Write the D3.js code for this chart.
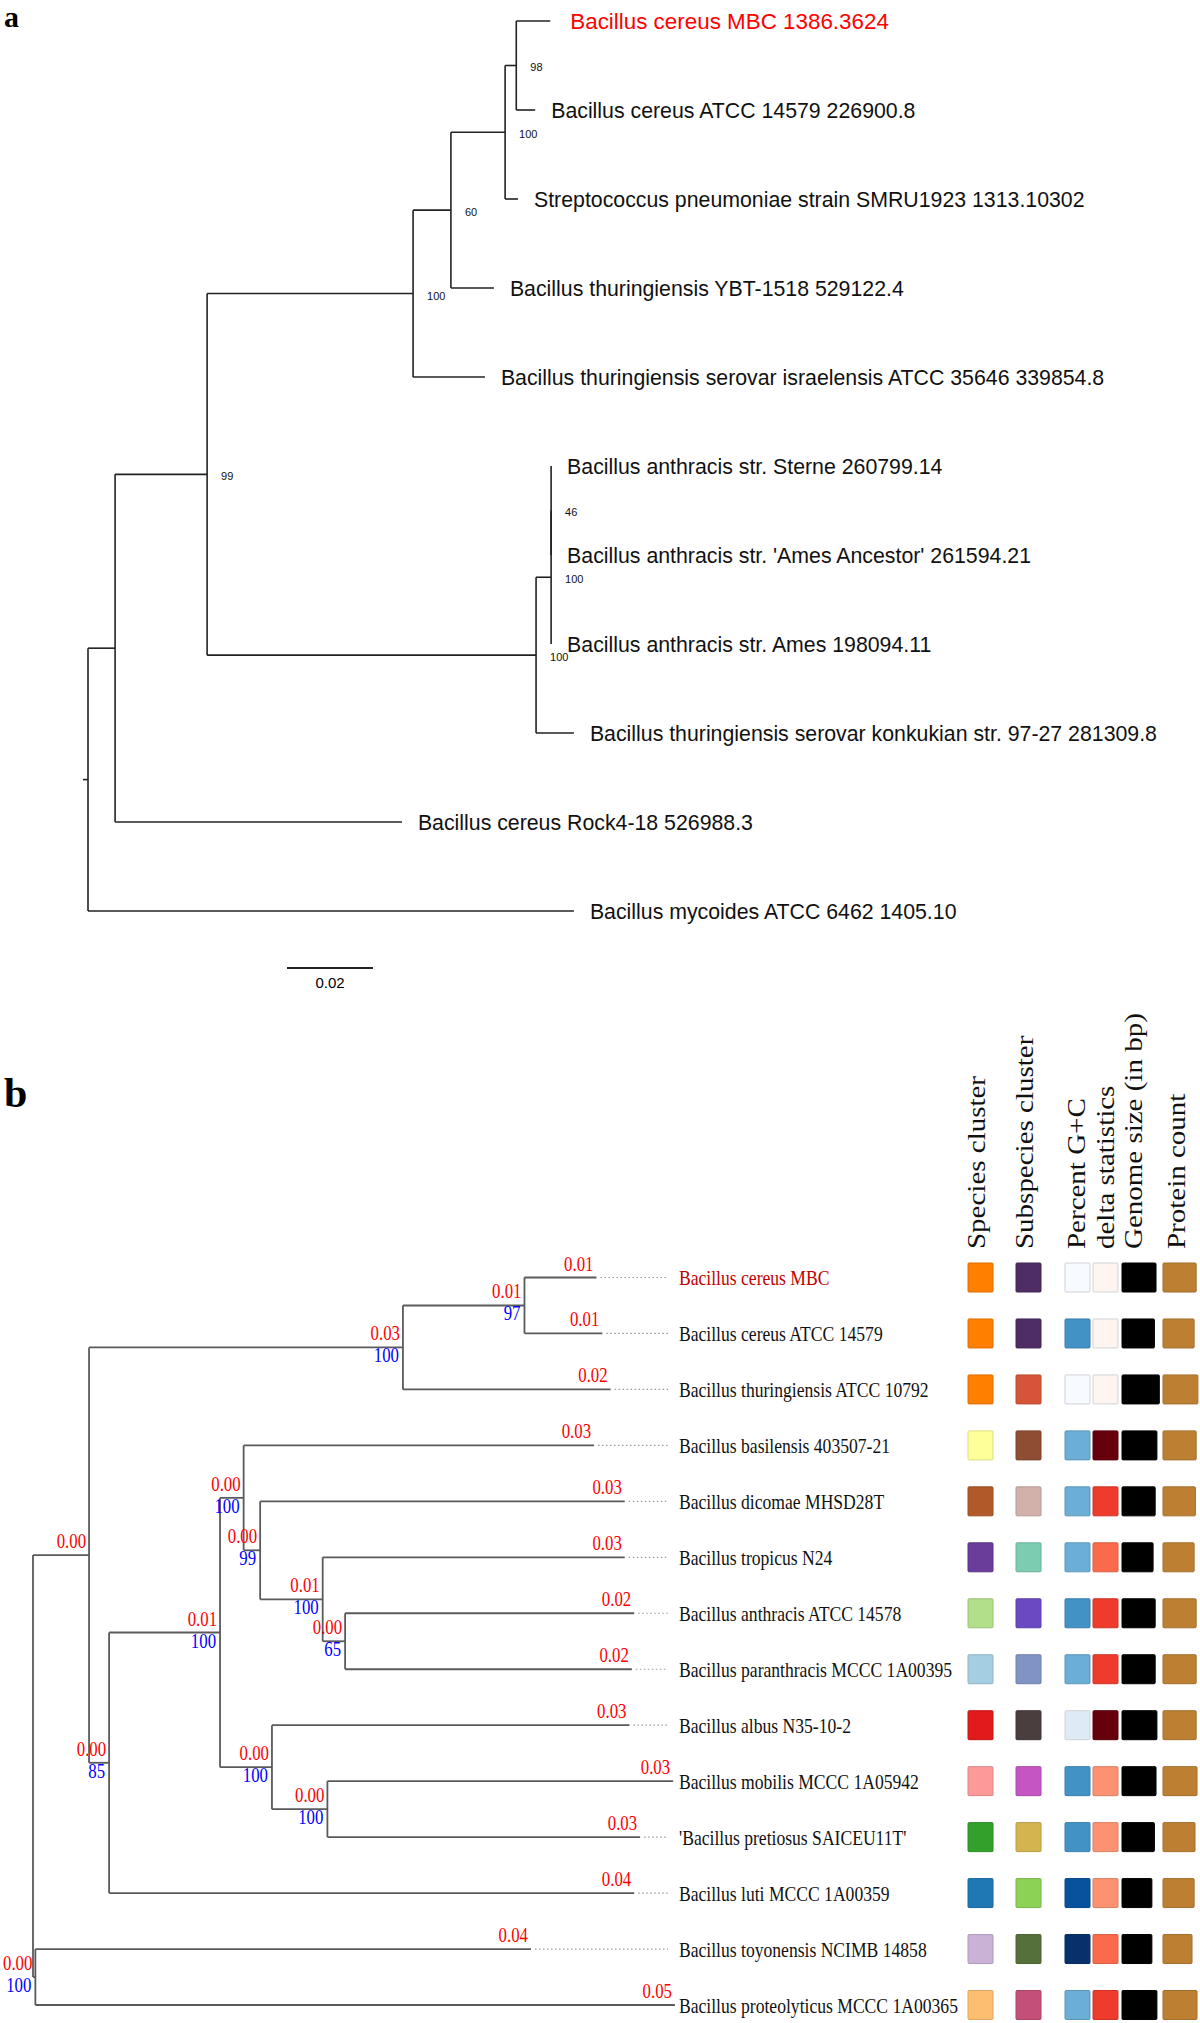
<!DOCTYPE html>
<html>
<head>
<meta charset="utf-8">
<script src="https://cdn.jsdelivr.net/npm/d3@7"></script>
<style>
  body { margin: 0; background: #fff; }
  svg { display: block; }
</style>
</head>
<body>
<div class="tree-chart"></div>
<script>
// ---------- panel a : whole genome tree ----------
const aLeaves = [
    "Bacillus cereus MBC 1386.3624",
    "Bacillus cereus ATCC 14579 226900.8",
    "Streptococcus pneumoniae strain SMRU1923 1313.10302",
    "Bacillus thuringiensis YBT-1518 529122.4",
    "Bacillus thuringiensis serovar israelensis ATCC 35646 339854.8",
    "Bacillus anthracis str. Sterne 260799.14",
    "Bacillus anthracis str. 'Ames Ancestor' 261594.21",
    "Bacillus anthracis str. Ames 198094.11",
    "Bacillus thuringiensis serovar konkukian str. 97-27 281309.8",
    "Bacillus cereus Rock4-18 526988.3",
    "Bacillus mycoides ATCC 6462 1405.10"
];
const aLeafParent = ["G", "G", "F", "E", "C", "H2", "H2", "H", "D", "A", "root"];
const aLeafLen = [0.0079, 0.0044, 0.0030, 0.0100, 0.0167, 0, 0, 0, 0.0088, 0.0667, 0.1130];
const aNodes = ["root", "A", "B", "C", "E", "F", "G", "D", "H", "H2"];
const aNodeParent = ["", "root", "A", "B", "C", "E", "F", "B", "D", "H"];
const aNodeLen = [0, 0.0063, 0.0214, 0.0479, 0.0088, 0.0126, 0.0026, 0.0765, 0.0035, 0];
const aBoot = [null, null, 99, 100, 60, 100, 98, 100, 100, 46];

// ---------- panel b : TYGS tree + metadata ----------
const bLeaves = [
    "Bacillus cereus MBC",
    "Bacillus cereus ATCC 14579",
    "Bacillus thuringiensis ATCC 10792",
    "Bacillus basilensis 403507-21",
    "Bacillus dicomae MHSD28T",
    "Bacillus tropicus N24",
    "Bacillus anthracis ATCC 14578",
    "Bacillus paranthracis MCCC 1A00395",
    "Bacillus albus N35-10-2",
    "Bacillus mobilis MCCC 1A05942",
    "'Bacillus pretiosus SAICEU11T'",
    "Bacillus luti MCCC 1A00359",
    "Bacillus toyonensis NCIMB 14858",
    "Bacillus proteolyticus MCCC 1A00365"
];
const bLeafParent = ["Nc", "Nc", "Nct", "N4", "N5", "N6", "N7", "N7", "N8", "N9", "N9", "N2", "Ntp", "Ntp"];
const bLeafLen = [0.0061, 0.0066, 0.0176, 0.0297, 0.0309, 0.0256, 0.0245, 0.0243, 0.0303, 0.0293, 0.0265, 0.0445, 0.0420, 0.0542];
const bNodes = ["root", "N1", "Nct", "Nc", "N2", "N3", "N4", "N5", "N6", "N7", "N8", "N9", "Ntp"];
const bNodeParent = ["", "root", "N1", "Nct", "N1", "N2", "N3", "N4", "N5", "N6", "N3", "N8", "root"];
const bNodeLen = [0, 0.00475, 0.0266, 0.0103, 0.0017, 0.0094, 0.0020, 0.0014, 0.0053, 0.0019, 0.0044, 0.0047, 0.0002];
const bBoot = [null, null, 100, 97, 85, 100, 100, 99, 100, 65, 100, 100, 100];

const headers = ["Species cluster", "Subspecies cluster", "Percent G+C", "delta statistics", "Genome size (in bp)", "Protein count"];
const speciesColor = ["#ff7f00", "#ff7f00", "#ff7f00", "#ffff99", "#b15928", "#6a3d9a", "#b2df8a", "#a6cee3", "#e31a1c", "#fb9a99", "#33a02c", "#1f78b4", "#cab2d6", "#fdbf6f"];
const subspeciesColor = ["#4d2d63", "#4d2d63", "#d6553a", "#8f4e34", "#d1b1a9", "#7bccb0", "#6a49c3", "#8192c4", "#4b3e3e", "#c655c4", "#d4b44f", "#8cd254", "#557139", "#c4507a"];
const gcColor = ["#f7fbff", "#4292c6", "#f7fbff", "#6baed6", "#6baed6", "#6baed6", "#4292c6", "#6baed6", "#deebf7", "#4292c6", "#4292c6", "#08519c", "#08306b", "#6baed6"];
const deltaColor = ["#fff5f0", "#fff5f0", "#fff5f0", "#67000d", "#ef3b2c", "#fb6a4a", "#ef3b2c", "#ef3b2c", "#67000d", "#fc9272", "#fc9272", "#fc9272", "#fb6a4a", "#ef3b2c"];
const genomeMb = [5.67, 5.40, 6.22, 5.82, 5.53, 5.18, 5.53, 5.53, 5.82, 5.67, 5.40, 4.98, 4.98, 5.82];
const proteinCount = [5640, 5290, 5930, 5640, 5510, 5290, 5640, 5640, 5640, 5780, 5440, 5290, 4930, 5780];

const width = 1200;
const height = 2023;

const svg = d3.select('.tree-chart').append('svg')
    .attr('width', width)
    .attr('height', height)
    .attr('viewBox', [0, 0, width, height]);

// build a hierarchy from the small arrays
function buildTree(nodes, nodeParent, nodeLen, boot, leaves, leafParent, leafLen) {
    const rows = nodes.map((id, i) => ({id: id, parent: nodeParent[i] || null, len: nodeLen[i], boot: boot[i], leaf: -1}));
    leaves.forEach((name, i) => rows.push({id: "leaf" + i, name: name, parent: leafParent[i], len: leafLen[i], boot: null, leaf: i}));
    const root = d3.stratify().id(d => d.id).parentId(d => d.parent)(rows);
    root.eachBefore(d => { d.dist = d.parent ? d.parent.dist + d.data.len : 0; });
    root.eachAfter(d => {
        if (d.children) {
            const ys = d.children.map(c => c.row);
            d.row = (d3.min(ys) + d3.max(ys)) / 2;
        } else {
            d.row = d.data.leaf;
        }
    });
    return root;
}

// ================= panel a =================
const aRoot = buildTree(aNodes, aNodeParent, aNodeLen, aBoot, aLeaves, aLeafParent, aLeafLen);
const aX = d3.scaleLinear().domain([0, 0.12]).range([88, 88 + 0.12 * 4300]);
const aY = d3.scaleLinear().domain([0, aLeaves.length - 1]).range([21, 911]);
const sans = '"Liberation Sans", Arial, sans-serif';

const ga = svg.append('g');
ga.append('text')
    .attr('x', 4).attr('y', 27)
    .style('font-family', '"Liberation Serif", "Times New Roman", serif')
    .style('font-weight', 'bold').style('font-size', '30px')
    .text('a');

ga.selectAll('line.h')
    .data(aRoot.descendants().filter(d => d.parent))
    .enter().append('line')
    .attr('x1', d => aX(d.parent.dist)).attr('x2', d => aX(d.dist))
    .attr('y1', d => aY(d.row)).attr('y2', d => aY(d.row))
    .style('stroke', '#222').style('stroke-width', 1.6);

ga.selectAll('line.v')
    .data(aRoot.descendants().filter(d => d.children))
    .enter().append('line')
    .attr('x1', d => aX(d.dist)).attr('x2', d => aX(d.dist))
    .attr('y1', d => aY(d3.min(d.children, c => c.row)))
    .attr('y2', d => aY(d3.max(d.children, c => c.row)))
    .style('stroke', '#222').style('stroke-width', 1.6);

// small root stub
ga.append('line')
    .attr('x1', aX(0) - 5).attr('x2', aX(0))
    .attr('y1', aY(aRoot.row)).attr('y2', aY(aRoot.row))
    .style('stroke', '#222').style('stroke-width', 1.6);

ga.selectAll('text.leaf')
    .data(aRoot.leaves())
    .enter().append('text')
    .attr('x', d => aX(d.dist) + (d.data.leaf === 0 ? 20 : 16))
    .attr('y', d => aY(d.row))
    .attr('dy', '0.36em')
    .style('font-family', sans)
    .style('font-size', d => d.data.leaf === 0 ? '22.4px' : '21.3px')
    .style('fill', d => d.data.leaf === 0 ? '#ff0000' : '#111')
    .text(d => d.data.name);

ga.selectAll('text.boot')
    .data(aRoot.descendants().filter(d => d.data.boot != null))
    .enter().append('text')
    .attr('x', d => aX(d.dist) + 14)
    .attr('y', d => aY(d.row) + 2)
    .attr('dy', '0.36em')
    .style('font-family', sans)
    .style('font-size', '11px')
    .style('fill', '#111')
    .text(d => d.data.boot);

// scale bar 0.02
const barLen = aX(0.02) - aX(0);
ga.append('line')
    .attr('x1', 287).attr('x2', 287 + barLen)
    .attr('y1', 968).attr('y2', 968)
    .style('stroke', '#222').style('stroke-width', 2);
ga.append('text')
    .attr('x', 287 + barLen / 2).attr('y', 988)
    .attr('text-anchor', 'middle')
    .style('font-family', sans)
    .style('font-size', '15px')
    .text('0.02');

// ================= panel b =================
const bRoot = buildTree(bNodes, bNodeParent, bNodeLen, bBoot, bLeaves, bLeafParent, bLeafLen);
const bX = d3.scaleLinear().domain([0, 0.055]).range([33, 33 + 0.055 * 11800]);
const bY = d3.scaleLinear().domain([0, bLeaves.length - 1]).range([1277.5, 2005]);
const serif = '"Liberation Serif", "Times New Roman", serif';
const squeeze = 0.8;   // labels in the figure are horizontally condensed
const dotEnd = 668;
const labelX = 679;

const gb = svg.append('g');
gb.append('text')
    .attr('x', 4).attr('y', 1107)
    .style('font-family', serif)
    .style('font-weight', 'bold').style('font-size', '42px')
    .text('b');

gb.selectAll('line.h')
    .data(bRoot.descendants().filter(d => d.parent))
    .enter().append('line')
    .attr('x1', d => bX(d.parent.dist)).attr('x2', d => bX(d.dist))
    .attr('y1', d => bY(d.row)).attr('y2', d => bY(d.row))
    .style('stroke', '#5a5a5a').style('stroke-width', 1.8);

gb.selectAll('line.v')
    .data(bRoot.descendants().filter(d => d.children))
    .enter().append('line')
    .attr('x1', d => bX(d.dist)).attr('x2', d => bX(d.dist))
    .attr('y1', d => bY(d3.min(d.children, c => c.row)))
    .attr('y2', d => bY(d3.max(d.children, c => c.row)))
    .style('stroke', '#5a5a5a').style('stroke-width', 1.8);

// dotted guides from tips to names
gb.selectAll('line.dot')
    .data(bRoot.leaves().filter(d => bX(d.dist) + 4 < dotEnd))
    .enter().append('line')
    .attr('x1', d => bX(d.dist) + 4).attr('x2', dotEnd)
    .attr('y1', d => bY(d.row)).attr('y2', d => bY(d.row))
    .style('stroke', '#9a9a9a').style('stroke-width', 1.2)
    .style('stroke-dasharray', '1.5,2.5');

// branch lengths (red) and bootstrap (blue)
const squeezed = (x, y) => `translate(${x},${y}) scale(${squeeze},1)`;

gb.selectAll('text.len')
    .data(bRoot.descendants().filter(d => d.parent))
    .enter().append('text')
    .attr('transform', d => squeezed(bX(d.dist) - 3, bY(d.row) - 7))
    .attr('text-anchor', 'end')
    .style('font-family', serif).style('font-size', '21px')
    .style('fill', '#ff0000')
    .text(d => d.data.len.toFixed(2));

gb.selectAll('text.boot')
    .data(bRoot.descendants().filter(d => d.data.boot != null))
    .enter().append('text')
    .attr('transform', d => squeezed(bX(d.dist) - 4, bY(d.row) + 15))
    .attr('text-anchor', 'end')
    .style('font-family', serif).style('font-size', '21px')
    .style('fill', '#0000ff')
    .text(d => d.data.boot);

gb.selectAll('text.leaf')
    .data(bRoot.leaves())
    .enter().append('text')
    .attr('transform', d => squeezed(labelX, bY(d.row)))
    .attr('dy', '0.36em')
    .style('font-family', serif).style('font-size', '22px')
    .style('fill', d => d.data.leaf === 0 ? '#c00000' : '#111')
    .text(d => d.data.name);

// metadata columns
const genomeW = d3.scaleLinear().domain([0, 6.5]).range([0, 39]);
const proteinW = d3.scaleLinear().domain([0, 6000]).range([0, 35.3]);
const columns = [
    {x: 968, base: 985, fill: i => speciesColor[i], w: () => 25},
    {x: 1016, base: 1033, fill: i => subspeciesColor[i], w: () => 25},
    {x: 1065, base: 1085, fill: i => gcColor[i], w: () => 25},
    {x: 1093, base: 1114, fill: i => deltaColor[i], w: () => 25},
    {x: 1122, base: 1142, fill: () => '#000000', w: i => genomeW(genomeMb[i])},
    {x: 1163, base: 1185, fill: () => '#bd8033', w: i => proteinW(proteinCount[i])}
];
const cellH = 29;

columns.forEach((col, c) => {
    gb.append('text')
        .attr('transform', `translate(${col.base},1249) scale(0.88,1) rotate(-90)`)
        .style('font-family', serif).style('font-size', '29px')
        .style('fill', '#111')
        .text(headers[c]);

    gb.selectAll(null)
        .data(bLeaves)
        .enter().append('rect')
        .attr('x', col.x)
        .attr('y', (d, i) => bY(i) - cellH / 2)
        .attr('width', (d, i) => col.w(i))
        .attr('height', cellH)
        .attr('rx', 1)
        .style('fill', (d, i) => col.fill(i))
        .style('stroke', (d, i) => {
            const f = d3.color(col.fill(i));
            return f.r + f.g + f.b > 700 ? '#cfd3d8' : f.darker(0.4);
        })
        .style('stroke-width', 1);
});
</script>
</body>
</html>
